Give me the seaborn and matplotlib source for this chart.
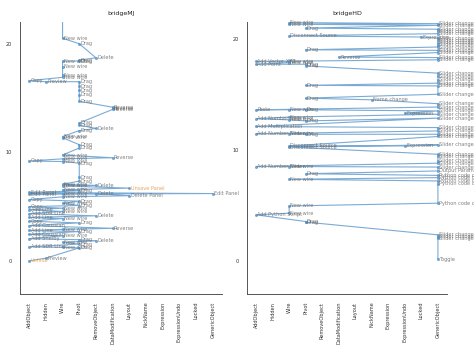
import matplotlib
matplotlib.use("Agg")
import matplotlib.pyplot as plt
import seaborn as sns
import pandas as pd

CATS = ["AddObject", "Hidden", "Wire", "Pivot", "RemoveObject", "DataModification",
        "Layout", "NickName", "Expression", "ExpressionUndo", "Locked", "GenericObject"]

# ---------------- bridgeMJ ----------------
mj_cats = ["Wire", "Wire", "Pivot", "RemoveObject", "Pivot", "Pivot", "Wire", "Wire", "Wire", "Wire",
           "AddObject", "Hidden", "Pivot", "Pivot", "Pivot", "Pivot", "Pivot",
           "DataModification", "DataModification", "DataModification",
           "Pivot", "Pivot", "RemoveObject", "Pivot", "Wire", "Wire", "Pivot", "Pivot",
           "Wire", "DataModification", "Wire", "AddObject", "Wire", "Pivot",
           "Pivot", "Pivot", "Wire", "RemoveObject", "Wire", "Layout", "Wire", "Pivot",
           "AddObject", "GenericObject", "AddObject", "Wire", "RemoveObject", "Layout", "Wire",
           "AddObject", "Pivot", "Wire", "Pivot", "AddObject", "Wire", "AddObject", "Wire",
           "AddObject", "RemoveObject", "AddObject", "Wire", "AddObject", "Pivot", "AddObject",
           "DataModification", "Wire", "AddObject", "Pivot", "AddObject", "Wire", "AddObject",
           "Pivot", "RemoveObject", "Wire", "Pivot", "AddObject", "Wire", "Pivot",
           "Hidden", "AddObject"]
mj_times = [22.6, 20.5, 20.0, 18.7, 18.5, 18.4, 18.4, 17.9, 17.1, 16.9,
            16.6, 16.5, 16.5, 16.1, 15.7, 15.3, 14.7,
            14.15, 14.05, 13.95,
            12.7, 12.5, 12.2, 12.0, 11.45, 11.35, 10.7, 10.4,
            9.75, 9.5, 9.4, 9.2, 9.15, 9.0,
            7.7, 7.35, 7.05, 6.95, 6.9, 6.7, 6.55, 6.45,
            6.3, 6.2, 6.15, 6.2, 6.2, 6.0, 5.9,
            5.65, 5.5, 5.3, 5.1, 5.0, 4.85, 4.7, 4.55,
            4.35, 4.15, 4.0, 3.9, 3.65, 3.5, 3.25,
            3.0, 2.9, 2.8, 2.7, 2.45, 2.3, 2.05,
            1.95, 1.85, 1.7, 1.55, 1.3, 1.25, 1.2,
            0.25, 0.0]
mj_labels = ["", "New wire", "Drag", "Delete", "Drag", "Drag", "New wire", "New wire", "New wire", "New wire",
             "Copy", "Preview", "Drag", "Drag", "Drag", "Drag", "Drag",
             "Reverse", "Reverse", "Reverse",
             "Drag", "Drag", "Delete", "Drag", "New wire", "Add wire", "Drag", "Drag",
             "New wire", "Reverse", "New wire", "Copy", "New wire", "Drag",
             "Drag", "Drag", "New wire", "Delete", "New wire", "Unsave Panel", "New wire", "Drag",
             "Edit Panel", "Edit Panel", "Edit Panel", "New wire", "Delete", "Delete Panel", "New wire",
             "Copy", "Drag", "New wire", "Drag", "Copy", "New wire", "Add Line", "New wire",
             "Add SDR Line", "Delete", "Add Line", "New wire", "Copy", "Drag", "Add Gaussian",
             "Reverse", "New wire", "Add Line", "Drag", "Add Gaussian", "New wire", "Add Shelby",
             "Drag", "Delete", "New wire", "Drag", "Add SDR Line", "New wire", "Drag",
             "Preview", "Unhide"]
mj_orange = ["Unsave Panel", "Unhide"]

# ---------------- bridgeHD ----------------
hd_cats = ["Wire", "GenericObject", "Wire", "GenericObject", "Pivot", "GenericObject", "GenericObject",
           "GenericObject", "Wire", "Locked", "GenericObject", "GenericObject", "GenericObject",
           "GenericObject", "GenericObject", "Pivot", "GenericObject", "GenericObject",
           "DataModification", "GenericObject", "GenericObject", "AddObject", "Wire", "Wire",
           "AddObject", "Pivot", "Pivot", "GenericObject", "GenericObject", "GenericObject",
           "GenericObject", "Pivot", "GenericObject", "GenericObject", "Pivot", "NickName",
           "GenericObject", "GenericObject", "AddObject", "Wire", "Pivot", "GenericObject",
           "ExpressionUndo", "GenericObject", "Wire", "AddObject", "Wire", "Pivot", "GenericObject",
           "AddObject", "GenericObject", "GenericObject", "AddObject", "Wire", "Pivot",
           "GenericObject", "GenericObject", "Wire", "ExpressionUndo", "GenericObject", "Wire",
           "GenericObject", "GenericObject", "GenericObject", "GenericObject", "AddObject", "Wire",
           "GenericObject", "GenericObject", "Pivot", "GenericObject", "GenericObject", "Wire",
           "GenericObject", "GenericObject", "GenericObject", "Wire", "Wire", "AddObject",
           "Pivot", "Pivot", "GenericObject", "GenericObject", "GenericObject", "GenericObject"]
hd_times = [21.45, 21.35, 21.3, 21.2, 20.95, 20.85, 20.65,
            20.45, 20.25, 20.15, 20.05, 19.85, 19.65,
            19.45, 19.25, 19.0, 18.95, 18.75,
            18.35, 18.3, 18.1, 17.95, 17.95, 17.85,
            17.7, 17.7, 17.55, 16.9, 16.6, 16.3,
            16.0, 15.8, 15.75, 15.0, 14.65, 14.5,
            14.15, 13.85, 13.6, 13.6, 13.6, 13.5,
            13.3, 13.2, 12.95, 12.8, 12.7, 12.6, 12.85,
            12.1, 12.0, 11.7, 11.45, 11.45, 11.4,
            11.4, 11.2, 10.35, 10.35, 10.45, 10.25,
            9.6, 9.4, 9.0, 8.8, 8.5, 8.5,
            8.45, 8.1, 7.85, 7.7, 7.5, 7.35,
            7.2, 6.95, 5.2, 4.95, 4.3, 4.15,
            3.55, 3.5, 2.35, 2.2, 2.05, 0.15]
hd_labels = ["New wire", "Slider change", "New wire", "Slider change", "Drag", "Slider change", "Slider change",
             "Slider change", "Disconnect Source", "Expression", "Slider change", "Slider change", "Slider change",
             "Slider change", "Slider change", "Drag", "Slider change", "Slider change",
             "Reverse", "Slider change", "Slider change", "Add Vector XYZ", "New wire", "New wire",
             "Add Point", "Drag", "Drag", "Slider change", "Slider change", "Slider change",
             "Slider change", "Drag", "Slider change", "Slider change", "Drag", "Name change",
             "Slider change", "Slider change", "Paste", "New wire", "Drag", "Slider change",
             "Expression", "Slider change", "New wire", "Add Number Slider", "New wire", "Drag", "Slider change",
             "Add Multiplication", "Slider change", "Slider change", "Add Number Slider", "New wire", "Drag",
             "Slider change", "Slider change", "Disconnect Source", "Expression", "Slider change", "Disconnect Source",
             "Slider change", "Slider change", "Slider change", "Slider change", "Add Number Slider", "New wire",
             "Slider change", "Output Parameter", "Drag", "Python code change", "Python code change", "New wire",
             "Python code change", "Python code change", "Python code change", "New wire", "New wire", "Add Python Script",
             "Drag", "Drag", "Slider change", "Slider change", "Slider change", "Toggle"]

LINE_COLOR = "#4f8fc6"


def draw(ax, cats, times, labels, orange, title, ylim):
    df = pd.DataFrame({"code": [CATS.index(c) for c in cats], "t": times, "label": labels})
    sns.lineplot(data=df, x="code", y="t", sort=False, estimator=None, ax=ax,
                 color=LINE_COLOR, linewidth=0.8, alpha=0.75, marker="o",
                 markersize=2.2, markeredgewidth=0)
    for _, r in df.iterrows():
        if not r["label"]:
            continue
        col = "#e8963c" if r["label"] in orange else "#6a6a6a"
        ax.text(r["code"] + 0.08, r["t"], r["label"], fontsize=3.6, color=col,
                alpha=0.85, ha="left", va="center")
    ax.set_xlim(-0.55, 11.55)
    ax.set_ylim(*ylim)
    ax.set_xticks(range(len(CATS)))
    ax.set_xticklabels(CATS, rotation=90, fontsize=3.6, color="#333333")
    ax.set_yticks([0, 10, 20])
    ax.tick_params(axis="y", labelsize=3.6, colors="#333333", length=2, width=0.5)
    ax.tick_params(axis="x", length=2, width=0.5)
    ax.set_xlabel("")
    ax.set_ylabel("")
    ax.set_title(title, fontsize=4.5, pad=5, color="#222222")
    for s in ["left", "bottom"]:
        ax.spines[s].set_color("#555555")
        ax.spines[s].set_linewidth(0.7)
    sns.despine(ax=ax)


sns.set_theme(style="white")
fig = plt.figure(figsize=(4.74, 3.45), dpi=100)
ax1 = fig.add_axes([20 / 474, 1 - 294 / 345, 202 / 474, 272 / 345])
ax2 = fig.add_axes([247 / 474, 1 - 294 / 345, 200 / 474, 272 / 345])
draw(ax1, mj_cats, mj_times, mj_labels, mj_orange, "bridgeMJ", (-3.05, 22.0))
draw(ax2, hd_cats, hd_times, hd_labels, [], "bridgeHD", (-2.97, 21.5))
fig.savefig("out.png", dpi=100)
